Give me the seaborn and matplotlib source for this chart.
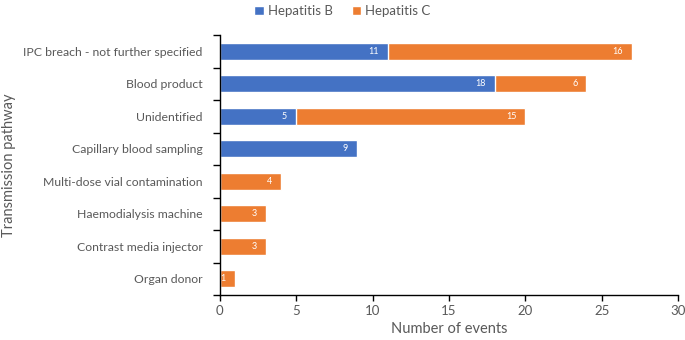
import matplotlib.pyplot as plt
import numpy as np
import pandas as pd
import seaborn as sns

pathways = [
    "IPC breach - not further specified",
    "Blood product",
    "Unidentified",
    "Capillary blood sampling",
    "Multi-dose vial contamination",
    "Haemodialysis machine",
    "Contrast media injector",
    "Organ donor",
]
hep_b = [11, 18, 5, 9, 0, 0, 0, 0]
hep_c = [16, 6, 15, 0, 4, 3, 3, 1]

BLUE = "#4472C4"
ORANGE = "#ED7D31"
GREY = "#595959"

sns.set_style("white")
plt.rcParams["font.family"] = ["Lato", "DejaVu Sans"]

df = pd.DataFrame({"pathway": pathways, "B": hep_b, "C": hep_c})
df["total"] = df["B"] + df["C"]

fig = plt.figure(figsize=(6.85, 3.4), dpi=100)
ax = fig.add_axes([0.321, 0.132, 0.669, 0.765])

# stacked: draw totals (orange), then Hep B over them
sns.barplot(df, x="total", y="pathway", color=ORANGE, width=0.52,
            saturation=1, ax=ax, label="Hepatitis C")
sns.barplot(df, x="B", y="pathway", color=BLUE, width=0.52,
            saturation=1, ax=ax, label="Hepatitis B")
handles, labels = ax.get_legend_handles_labels()
if ax.get_legend() is not None:
    ax.get_legend().remove()

for i, row in df.iterrows():
    if row["B"] > 0:
        ax.text(row["B"] - 0.6, i, str(row["B"]), ha="right", va="center",
                color="white", fontsize=6.5)
    if row["C"] > 0:
        ax.text(row["total"] - 0.6, i, str(row["C"]), ha="right", va="center",
                color="white", fontsize=6.5)

ax.set_xlim(0, 30)
ax.set_ylim(len(pathways) - 0.5, -0.5)
ax.set_xticks(range(0, 31, 5))
ax.set_yticks(np.arange(-0.5, len(pathways), 1.0), minor=True)
ax.tick_params(axis="y", which="major", left=False, labelsize=8.8,
               labelcolor=GREY, pad=9)
ax.tick_params(axis="y", which="minor", left=True, length=5, width=1,
               color="black", direction="out")
ax.tick_params(axis="x", bottom=True, length=4, width=1, color="black",
               direction="out", labelsize=9.5, labelcolor=GREY, pad=3)
ax.set_xlabel("Number of events", fontsize=10.5, color=GREY, labelpad=4)
ax.set_ylabel("Transmission pathway", fontsize=10.5, color=GREY)
ax.yaxis.set_label_coords(-0.445, 0.5)
for side in ["top", "right"]:
    ax.spines[side].set_visible(False)
for side in ["left", "bottom"]:
    ax.spines[side].set_color("black")
    ax.spines[side].set_linewidth(1)

order = [labels.index("Hepatitis B"), labels.index("Hepatitis C")]
fig.legend([handles[k] for k in order], [labels[k] for k in order],
           loc="upper center", bbox_to_anchor=(0.5, 1.02), ncol=2,
           frameon=False, fontsize=9.5, labelcolor=GREY, handlelength=0.7,
           handleheight=0.7, handletextpad=0.3, columnspacing=1.5)

fig.savefig("out.png", dpi=100)
